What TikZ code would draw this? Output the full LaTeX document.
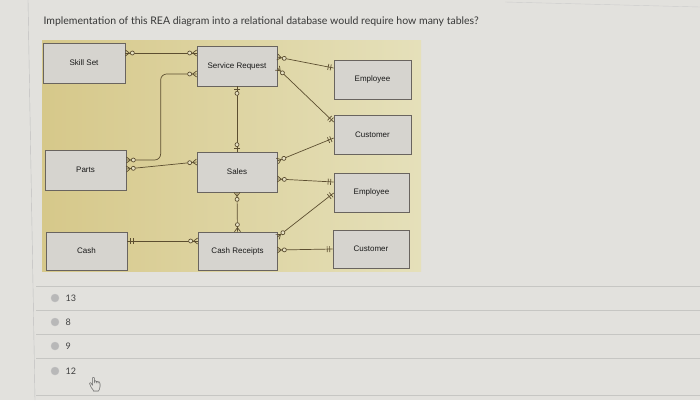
\documentclass[tikz,border=0pt]{standalone}
\usepackage{fontspec}
\setmainfont{Lato}
\newfontfamily\boxfont{Liberation Sans}
\newfontfamily\symfont{Noto Emoji}
\usetikzlibrary{decorations.markings}

\definecolor{pagebg}{RGB}{226,225,221}
\definecolor{panelL}{RGB}{214,200,138}
\definecolor{panelR}{RGB}{229,224,186}
\definecolor{boxfill}{RGB}{214,212,207}
\definecolor{boxline}{RGB}{105,100,95}
\definecolor{relline}{RGB}{92,78,48}
\definecolor{ringfill}{RGB}{232,226,196}
\definecolor{qtext}{RGB}{55,55,55}
\definecolor{rulecol}{RGB}{198,198,195}

% cardinality marks, local frame: x points away from the box
\newcommand{\zmanymark}{%
  \draw[relline,line width=0.7pt] (4pt,0) -- (0,3pt) (4pt,0) -- (0,-3pt);
  \draw[relline,line width=0.7pt,fill=ringfill] (7pt,0) circle (2pt);}
\newcommand{\zonemark}{%
  \draw[relline,line width=0.7pt] (3pt,3pt) -- (3pt,-3pt);
  \draw[relline,line width=0.7pt,fill=ringfill] (7pt,0) circle (2pt);}
\newcommand{\onemark}{%
  \draw[relline,line width=0.7pt] (3pt,3pt) -- (3pt,-3pt) (5.5pt,3pt) -- (5.5pt,-3pt);}

\tikzset{
  atstart/.style={postaction={decorate,decoration={markings,
      mark=at position 0 with {#1}}}},
  atend/.style={postaction={decorate,decoration={markings,
      mark=at position 1 with {\begin{scope}[xscale=-1]#1\end{scope}}}}},
}

\begin{document}
\begin{tikzpicture}[x=1pt,y=-1pt,
    entity/.style 2 args={rectangle, draw=boxline, fill=boxfill, line width=0.7pt,
      minimum width=#1, minimum height=#2, inner sep=0pt,
      font=\boxfont\fontsize{8}{9}\selectfont, text=black!90},
    rel/.style={draw=relline, line width=0.7pt},
    radio/.style={circle, draw=black!25, fill=black!28, minimum size=8pt, inner sep=0pt},
    option/.style={anchor=west, font=\fontsize{9}{10}\selectfont, text=black!75}
]
    \useasboundingbox (0,0) rectangle (700,400);
    % page
    \fill[pagebg] (0,0) rectangle (700,400);
    \draw[black!25] (28,0) -- (35,400);
    \draw[black!20] (505,2) -- (700,7);
    \node[anchor=west, font=\fontsize{10.5}{12}\selectfont, text=qtext] (question) at (40,22)
      {Implementation of this REA diagram into a relational database would require how many tables?};
    % diagram panel
    \shade[left color=panelL, right color=panelR] (42,40) rectangle (421,271);
    % Resources
    \node[entity={82pt}{40pt}] (skill) at (84,63) {Skill Set};
    \node[entity={81pt}{40pt}] (parts) at (85.5,170) {Parts};
    \node[entity={81pt}{38pt}] (cash) at (86.5,251) {Cash};
    % Events
    \node[entity={80pt}{40pt}] (sreq) at (237,66) {Service Request};
    \node[entity={80pt}{40pt}] (sales) at (237,172) {Sales};
    \node[entity={79pt}{38pt}] (crec) at (237.5,251) {Cash Receipts};
    % Agents
    \node[entity={77pt}{39pt}] (emp1) at (372.5,79.5) {Employee};
    \node[entity={77pt}{39pt}] (cust1) at (372.5,134.5) {Customer};
    \node[entity={75pt}{39pt}] (emp2) at (371.5,192.5) {Employee};
    \node[entity={76pt}{38pt}] (cust2) at (371,249) {Customer};
    % Relationships
    \draw[rel, atstart=\zmanymark, atend=\zmanymark] ([yshift=10pt]skill.east) -- ([yshift=13pt]sreq.west);
    \draw[rel, rounded corners=6pt, atstart=\zmanymark, atend=\zmanymark]
      ([yshift=10pt]parts.east) -| ([xshift=-36pt,yshift=-8pt]sreq.west) -- ([yshift=-8pt]sreq.west);
    \draw[rel, atstart=\zmanymark, atend=\zmanymark] ([yshift=1pt]parts.east) -- ([yshift=10pt]sales.west);
    \draw[rel, atstart=\onemark, atend=\zmanymark] ([yshift=10pt]cash.east) -- ([yshift=10pt]crec.west);
    \draw[rel, atstart=\zonemark, atend=\zonemark] (sreq.south) -- (sales.north);
    \draw[rel, atstart=\zmanymark, atend=\zmanymark] (sales.south) -- (crec.north);
    \draw[rel, atstart=\zmanymark, atend=\onemark] ([yshift=9pt]sreq.east) -- ([yshift=11.5pt]emp1.west);
    \draw[rel, atstart=\zmanymark, atend=\onemark] ([yshift=-2pt]sreq.east) -- ([yshift=12.5pt]cust1.west);
    \draw[rel, atstart=\zmanymark, atend=\onemark] ([yshift=11pt]sales.east) -- ([yshift=-3.5pt]cust1.west);
    \draw[rel, atstart=\zmanymark, atend=\onemark] ([yshift=-7pt]sales.east) -- ([yshift=10.5pt]emp2.west);
    \draw[rel, atstart=\zmanymark, atend=\onemark] ([yshift=14pt]crec.east) -- ([yshift=-0.5pt]emp2.west);
    \draw[rel, atstart=\zmanymark, atend=\onemark] ([yshift=1pt]crec.east) -- (cust2.west);
    % answer options
    \foreach \yy in {286, 310, 334, 358, 395}
      \draw[rulecol] (36,\yy) -- (700,\yy);
    \foreach \yy/\val in {298/13, 322/8, 346/9, 371/12} {
      \node[radio] (r\val) at (55,\yy) {};
      \node[option] (o\val) at (62,\yy) {\val};
    }
    \node[font=\symfont\fontsize{14}{14}\selectfont, text=black!70] (hand) at (95,385) {👆};
\end{tikzpicture}
\end{document}
